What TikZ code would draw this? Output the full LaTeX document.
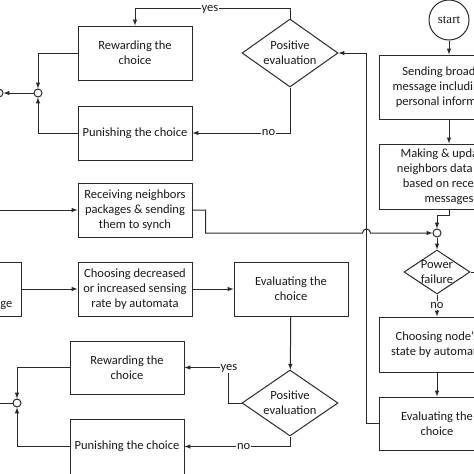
\documentclass[tikz,border=0pt]{standalone}
\usepackage{fontspec}
\setmainfont{Carlito}
\newfontfamily\startfont{Liberation Serif}
\usepackage{tikz}
\usetikzlibrary{shapes,arrows,positioning}
\definecolor{linegray}{HTML}{2A2A2A}
\tikzset{
  flowedge/.style   = {draw=linegray, ->, >=latex, line width=1pt},
  flowline/.style   = {draw=linegray, line width=1pt},
  stepbox/.style    = {rectangle, draw=linegray, line width=1pt, minimum width=114pt, minimum height=54pt, align=center, inner sep=1pt},
  decision/.style   = {diamond, draw=linegray, line width=1pt, aspect=1.4, inner sep=0pt, minimum width=96pt, minimum height=68pt, align=center},
  junction/.style   = {circle, draw=linegray, line width=1pt, minimum size=8pt, inner sep=0pt, fill=white},
  edgelabel/.style  = {fill=white, inner sep=1pt},
}

\begin{document}
\begin{tikzpicture}[x=1pt, y=-1pt, font=\fontsize{12.5}{15}\selectfont, text=black!90]
      \useasboundingbox (0,0) rectangle (474,474);
      \clip (0,0) rectangle (474,474);

      % right column
      \node [circle, draw=linegray, line width=1pt, minimum size=40pt, inner sep=0pt, font=\startfont\fontsize{13}{15}\selectfont] (start) at (449,20) {start};
      \node [stepbox, minimum width=140pt, minimum height=64pt] (sendB) at (449,87) {Sending broadcast\\message including the\\personal information};
      \node [stepbox, minimum width=140pt, minimum height=65pt] (makeB) at (449,176.5) {Making \& updating\\neighbors data table\\based on received\\messages};
      \node [junction] (mrgR) at (437,233) {};
      \node [decision, minimum width=66pt, minimum height=44pt] (pwr) at (437,272) {};
      \node [align=center] (pwrtxt) at (pwr.center) {Power\\failure};
      \node [stepbox, minimum width=116pt, minimum height=55pt] (chooseB) at (437,344.5) {Choosing node's\\state by automata};
      \node [stepbox, minimum width=116pt, minimum height=53pt] (evalR) at (437,423.5) {Evaluating the\\choice};
      \coordinate (pwrYes) at (480,272);

      % top loop
      \node [decision] (evalT) at (290,53) {Positive\\evaluation};
      \node [stepbox] (rewT) at (135,53) {Rewarding the\\choice};
      \node [stepbox, below=25pt of rewT] (punT) {Punishing the choice};
      \node [junction] (mrgT) at (38,93) {};
      \node [junction] (outT) at (-1,93) {};

      % middle row
      \node [stepbox] (recvB) at (135,210) {Receiving neighbors\\packages \& sending\\them to synch};
      \node [stepbox] (chooseM) at (135,289) {Choosing decreased\\or increased sensing\\rate by automata};
      \node [stepbox, left=56pt of chooseM] (leftB) {Sending\\synch\\broadcast message};
      \node [stepbox, right=41pt of chooseM] (evalM) {Evaluating the\\choice};
      \coordinate (recvIn) at (-5,210);

      % bottom loop
      \node [decision, minimum height=66pt] (evalL) at (290,403) {Positive\\evaluation};
      \node [stepbox, minimum height=53pt] (rewL) at (127,367.5) {Rewarding the\\choice};
      \node [stepbox, minimum height=55pt] (punL) at (127,446.5) {Punishing the choice};
      \node [junction] (mrgL) at (17,403) {};
      \coordinate (outL) at (-5,403);

      \path (start) edge[flowedge] (sendB);
      \path (sendB) edge[flowedge] (makeB);
      \draw[flowedge] (makeB.south) -- ++(0,6) -| (mrgR.north);
      \path (mrgR) edge[flowedge] (pwr);
      \draw[flowline] (pwr.east) -- (pwrYes);
      \path (pwr) edge[flowedge] node[edgelabel] {no} (chooseB);
      \path (chooseB) edge[flowedge] (evalR);
      \coordinate (riser) at ([xshift=-12pt]evalR.west);
      \coordinate (hop) at (riser |- mrgR.west);
      \draw[flowedge] (evalR.west) -- (riser) |- (evalT.east);
      \draw[flowedge] (recvB.east) -- ++(13,0) |- ([xshift=-4pt]hop) arc (180:360:4) -- (mrgR.west);

      \draw[flowedge] (evalT.north) -- ++(0,-10) -| (rewT.north);
      \node [edgelabel] at (210,9) {yes};
      \draw[flowedge] (evalT.south) |- node[edgelabel, pos=0.61] {no} (punT.east);
      \draw[flowedge] (rewT.west) -| (mrgT.north);
      \draw[flowedge] (punT.west) -| (mrgT.south);
      \draw[flowedge] (mrgT.west) -- (outT.east);

      \draw[flowedge] (recvIn) -- (recvB.west);
      \path (leftB) edge[flowedge] (chooseM);
      \path (chooseM) edge[flowedge] (evalM);
      \path (evalM) edge[flowedge] (evalL);

      \draw[flowedge] (evalL.west) -- ++(-13,0) |- (rewL.east);
      \node [edgelabel] at (229,368) {yes};
      \draw[flowedge] (evalL.south) |- node[edgelabel, pos=0.72] {no} (punL.east);
      \draw[flowedge] (rewL.west) -| (mrgL.north);
      \draw[flowedge] (punL.west) -| (mrgL.south);
      \draw[flowline] (mrgL.west) -- (outL);
\end{tikzpicture}
\end{document}
